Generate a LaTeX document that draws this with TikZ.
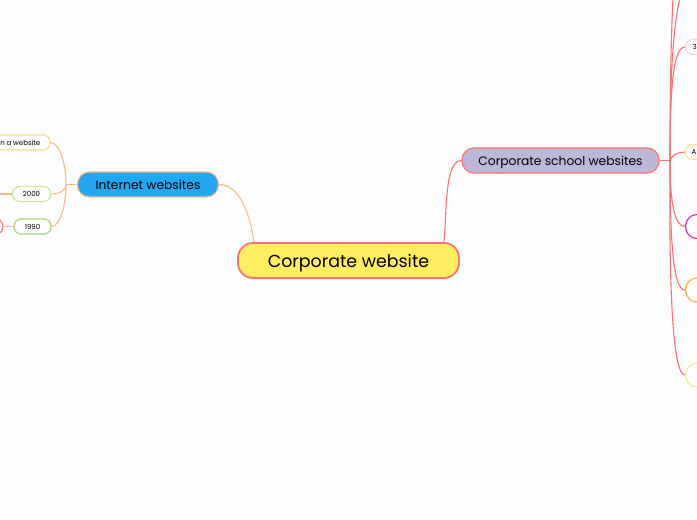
\documentclass[tikz,border=0pt]{standalone}
\usepackage{fontspec}
\setmainfont{Poppins}
\definecolor{bgc}{HTML}{FDFDFD}
\definecolor{rd}{HTML}{FF7272}
\definecolor{og}{HTML}{FFB88A}
\definecolor{rootfill}{HTML}{FFEE5F}
\definecolor{blue1}{HTML}{22A7F0}
\definecolor{purp}{HTML}{BDB8DA}
\definecolor{lyellow}{HTML}{F9DC8C}
\definecolor{lgreen}{HTML}{CDE89A}
\definecolor{dgreen}{HTML}{ADD07F}
\definecolor{lpink}{HTML}{FFD0E4}
\definecolor{lyel}{HTML}{F7EC80}
\definecolor{mag}{HTML}{E22BC0}
\definecolor{org}{HTML}{FFB638}
\definecolor{pale}{HTML}{F6EE8E}
\tikzset{
  x=1pt,y=-1pt,
  rootbox/.style={draw=rd,line width=1.8pt,fill=rootfill,rounded corners=15pt,minimum width=221pt,minimum height=35pt,inner sep=0pt,text height=15pt,text depth=1pt,font=\fontsize{17.4}{18}\selectfont},
  topicbox/.style={rounded corners=12pt,line width=1.2pt,inner sep=0pt,minimum height=25pt,text height=11.5pt,text depth=1pt,font=\fontsize{12.3}{14}\selectfont},
  leafbox/.style={draw,fill=white,rounded corners=7pt,line width=1.2pt,inner sep=0pt,minimum height=15pt,text height=6.5pt,text depth=1pt,font=\fontsize{7}{8}\selectfont},
  bigleaf/.style={draw,fill=white,rounded corners=11.5pt,line width=1.2pt,inner sep=0pt,minimum width=40pt,minimum height=24pt,anchor=west},
  linkr/.style={draw=rd,line width=1.1pt},
  linko/.style={draw=og,line width=1.1pt},
}
\begin{document}
\begin{tikzpicture}
\useasboundingbox[fill=bgc] (0,0) rectangle (697,520);
\begin{scope}
\clip (0,0) rectangle (697,520);
% junctions and free ends
\coordinate (wj) at (66,184.5);
\coordinate (sj) at (670,160.5);
\coordinate (up1) at (673,-2);
\coordinate (up2) at (680,-2);
\coordinate (offl) at (-2,194);
% nodes
\node[rootbox] (root) at (348.5,260.5) {Corporate website};
\node[topicbox,draw=og,fill=blue1,minimum width=141pt] (web) at (148,184.5) {Internet websites};
\node[topicbox,draw=rd,fill=purp,minimum width=197pt] (school) at (560.5,160.5) {Corporate school websites};
\node[leafbox,draw=lyellow,minimum width=70pt,anchor=east] (l1) at (50.5,142.5) {};
\node[inner sep=0pt,text height=6.5pt,text depth=1pt,font=\fontsize{7}{8}\selectfont,anchor=east] (l1t) at (40.5,142.5) {n a website};
\node[leafbox,draw=lgreen,minimum width=38pt] (l2) at (31.5,194) {2000};
\node[leafbox,draw=dgreen,minimum width=37pt] (l3) at (32.5,226.5) {1990};
\node[draw=rd,fill=white,line width=1.1pt,rounded corners=7pt,minimum width=20pt,minimum height=15pt,anchor=east,inner sep=0pt] (l3a) at (3.5,226.5) {};
\node[leafbox,draw=lpink,minimum width=30pt,anchor=west] (r1) at (685,47) {\hspace*{-12pt}3};
\node[leafbox,draw=lyel,minimum width=30pt,anchor=west] (r2) at (685,152) {\hspace*{-13pt}A};
\node[bigleaf,draw=mag] (r3) at (685,226.5) {};
\node[bigleaf,draw=org] (r4) at (685,290) {};
\node[bigleaf,draw=pale] (r5) at (685,375) {};
% connectors
\path[linko] ([xshift=17pt]root.north west) .. controls (250,215) and (240,184.5) .. (web.east);
\path[linkr] ([xshift=-16pt]root.north east) .. controls (447,215) and (444,160.5) .. (school.west);
\path[linko] (web.west) -- (wj);
\path[linko] (wj) .. controls (66,165) and (60,143) .. (l1.east);
\path[linko] (wj) .. controls (66,190) and (60,194) .. (l2.east);
\path[linko] (wj) .. controls (66,205) and (60,226.5) .. (l3.east);
\path[linko] (l3.west) -- (l3a.east);
\path[linko] (l2.west) -- (offl);
\path[linkr] (school.east) -- (sj);
\path[linkr] (sj) .. controls (670,90) and (671,40) .. (up1);
\path[linkr] (sj) .. controls (670,90) and (672,30) .. (up2);
\path[linkr] (sj) .. controls (670,90) and (673,47) .. (r1.west);
\path[linkr] (sj) .. controls (672,155) and (678,152) .. (r2.west);
\path[linkr] (sj) .. controls (670,195) and (673,226.5) .. (r3.west);
\path[linkr] (sj) .. controls (670,240) and (673,290) .. (r4.west);
\path[linkr] (sj) .. controls (669,280) and (672,375) .. (r5.west);
\end{scope}
\end{tikzpicture}
\end{document}
